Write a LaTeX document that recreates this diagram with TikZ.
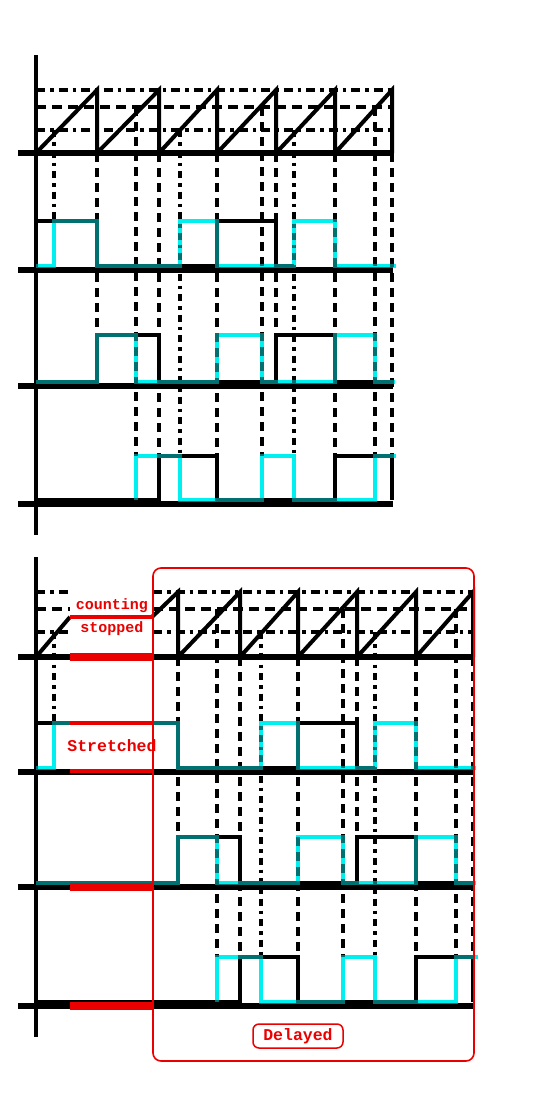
\documentclass[tikz,border=0pt]{standalone}
\usepackage{fontspec}
\newfontfamily\monof{Liberation Mono}
\definecolor{cyn}{RGB}{0,240,240}
\definecolor{tl}{RGB}{0,112,112}
\definecolor{rd}{RGB}{235,0,0}
\tikzset{
  axisln/.style={line width=4pt},
  baseln/.style={line width=5.5pt},
  cbase/.style={line width=6.5pt},
  lvl/.style={line width=4.5pt, dash pattern=on 10pt off 6pt},
  lvldot/.style={line width=4.5pt, dash pattern=on 9pt off 5pt on 3.5pt off 5pt},
  vdash/.style={line width=4.5pt, dash pattern=on 9pt off 6pt},
  vdot/.style={line width=4.5pt, dash pattern=on 7pt off 5pt on 3.5pt off 5pt},
  saw/.style={line width=4pt},
  sigk/.style={line width=4pt},
  sigc/.style={line width=4pt},
  redthick/.style={rd, line width=8pt},
  redthin/.style={rd, line width=4.5pt},
  lbl/.style={text=rd, font=\monof\bfseries\fontsize{15}{15}\selectfont, inner sep=0pt, anchor=base},
  lblbig/.style={lbl, font=\monof\bfseries\fontsize{16.5}{16.5}\selectfont},
}
% cyan signal paths (top half)
\newcommand\cyA{(36,266) -- (54,266) -- (54,221) -- (97,221) -- (97,266) -- (180,266) -- (180,221) -- (217,221) -- (217,266) -- (294,266) -- (294,221) -- (335,221) -- (335,266) -- (396,266)}
\newcommand\cyB{(36,382) -- (97,382) -- (97,335) -- (136,335) -- (136,382) -- (217,382) -- (217,335) -- (262,335) -- (262,382) -- (335,382) -- (335,335) -- (375,335) -- (375,382) -- (395,382)}
\newcommand\cyC{(136,500) -- (136,456) -- (180,456) -- (180,500) -- (262,500) -- (262,456) -- (294,456) -- (294,500) -- (375,500) -- (375,456) -- (396,456)}
% cyan signal paths (bottom half)
\newcommand\cyD{(36,768) -- (54,768) -- (54,723) -- (178,723) -- (178,768) -- (261,768) -- (261,723) -- (298,723) -- (298,768) -- (375,768) -- (375,723) -- (416,723) -- (416,768) -- (476,768)}
\newcommand\cyE{(36,883) -- (178,883) -- (178,837) -- (217,837) -- (217,883) -- (298,883) -- (298,837) -- (343,837) -- (343,883) -- (416,883) -- (416,837) -- (456,837) -- (456,883) -- (476,883)}
\newcommand\cyF{(217,1002) -- (217,957) -- (261,957) -- (261,1002) -- (343,1002) -- (343,957) -- (375,957) -- (375,1002) -- (456,1002) -- (456,957) -- (478,957)}
\begin{document}
\begin{tikzpicture}[x=1pt,y=-1pt]
\fill[white] (0,0) rectangle (550,1100);
\useasboundingbox (0,0) rectangle (550,1100);

% ================= TOP HALF =================
% counter levels
\draw[lvldot] (36,90) -- (393,90);
\draw[lvl] (36,107) -- (393,107);
\draw[lvldot] (36,130) -- (393,130);
% vertical projection lines
\foreach \x/\a/\b in {97/153/335, 159/153/456, 217/153/456, 276/153/335, 335/153/456, 392/153/456, 136/107/456, 262/107/456, 375/107/456}
  \draw[vdash] (\x,\a) -- (\x,\b);
\foreach \x/\a/\b in {54/130/221, 180/130/456, 294/130/456}
  \draw[vdot] (\x,\a) -- (\x,\b);
% sawtooth
\draw[saw] (36,153) -- (97,90) -- (97,153) -- (159,90) -- (159,153) -- (217,90) -- (217,153)
  -- (276,90) -- (276,153) -- (335,90) -- (335,153) -- (392,90) -- (392,153);
% axes
\draw[cbase] (18,153) -- (393,153);
\draw[baseln] (18,270) -- (393,270);
\draw[baseln] (18,386) -- (393,386);
\draw[baseln] (18,504) -- (393,504);
\draw[axisln] (36,55) -- (36,535);
% black signals
\draw[sigk] (36,266) -- (36,221) -- (97,221) -- (97,266) -- (217,266) -- (217,221) -- (276,221) -- (276,266) -- (294,266);
\draw[sigk] (36,382) -- (97,382) -- (97,335) -- (159,335) -- (159,382) -- (276,382) -- (276,335) -- (335,335) -- (335,382) -- (393,382);
\draw[sigk] (36,500) -- (159,500) -- (159,456) -- (217,456) -- (217,500) -- (335,500) -- (335,456) -- (392,456) -- (392,500);

% ================= BOTTOM HALF =================
\draw[lvldot] (36,592) -- (70,592);  \draw[lvldot] (153,592) -- (474,592);
\draw[lvl] (36,609) -- (70,609);     \draw[lvl] (153,609) -- (474,609);
\draw[lvldot] (36,632) -- (70,632);  \draw[lvldot] (153,632) -- (474,632);
\foreach \x/\a/\b in {178/657/837, 240/657/957, 298/657/957, 357/657/837, 416/657/957, 473/657/957, 217/609/957, 343/609/957, 456/609/957}
  \draw[vdash] (\x,\a) -- (\x,\b);
\foreach \x/\a/\b in {54/632/723, 261/632/957, 375/632/957}
  \draw[vdot] (\x,\a) -- (\x,\b);
\draw[saw] (36,657) -- (70,617);
\draw[saw] (152,617) -- (178,592) -- (178,657) -- (240,592) -- (240,657) -- (298,592) -- (298,657)
  -- (357,592) -- (357,657) -- (416,592) -- (416,657) -- (473,592) -- (473,657);
\draw[cbase] (18,657) -- (474,657);
\draw[baseln] (18,772) -- (474,772);
\draw[baseln] (18,887) -- (474,887);
\draw[baseln] (18,1006) -- (474,1006);
\draw[axisln] (36,557) -- (36,1037);
\draw[sigk] (36,768) -- (36,723) -- (178,723) -- (178,768) -- (298,768) -- (298,723) -- (357,723) -- (357,768) -- (375,768);
\draw[sigk] (36,883) -- (178,883) -- (178,837) -- (240,837) -- (240,883) -- (357,883) -- (357,837) -- (416,837) -- (416,883) -- (474,883);
\draw[sigk] (36,1002) -- (240,1002) -- (240,957) -- (298,957) -- (298,1002) -- (416,1002) -- (416,957) -- (473,957) -- (473,1002);

% cyan signals: cyan on white, teal where over black
\begin{scope}[blend mode=darken]
  \draw[cyn,sigc] \cyA; \draw[cyn,sigc] \cyB; \draw[cyn,sigc] \cyC;
  \draw[cyn,sigc] \cyD; \draw[cyn,sigc] \cyE; \draw[cyn,sigc] \cyF;
\end{scope}
\begin{scope}[blend mode=lighten]
  \draw[tl,sigc] \cyA; \draw[tl,sigc] \cyB; \draw[tl,sigc] \cyC;
  \draw[tl,sigc] \cyD; \draw[tl,sigc] \cyE; \draw[tl,sigc] \cyF;
\end{scope}

% red annotations
\draw[redthick] (70,657) -- (152,657);
\draw[redthin] (70,617) -- (152,617);
\draw[redthin] (70,723) -- (152,723);
\draw[redthin] (70,771) -- (152,771);
\draw[redthick] (70,887) -- (152,887);
\draw[redthick] (70,1006) -- (152,1006);
\draw[rd, line width=1.6pt, rounded corners=8pt] (153,568) rectangle (474,1061);

\node[lbl] (counting) at (112,609) {counting};
\node[lbl] (stopped) at (112,632) {stopped};
\node[lblbig] (stretched) at (112,751) {Stretched};
\node[draw=rd, line width=1.5pt, rounded corners=6pt, minimum width=90pt, minimum height=24pt,
      text=rd, inner sep=0pt, font=\monof\bfseries\fontsize{16.5}{16.5}\selectfont] (delayed) at (298,1036) {Delayed};
\end{tikzpicture}
\end{document}
